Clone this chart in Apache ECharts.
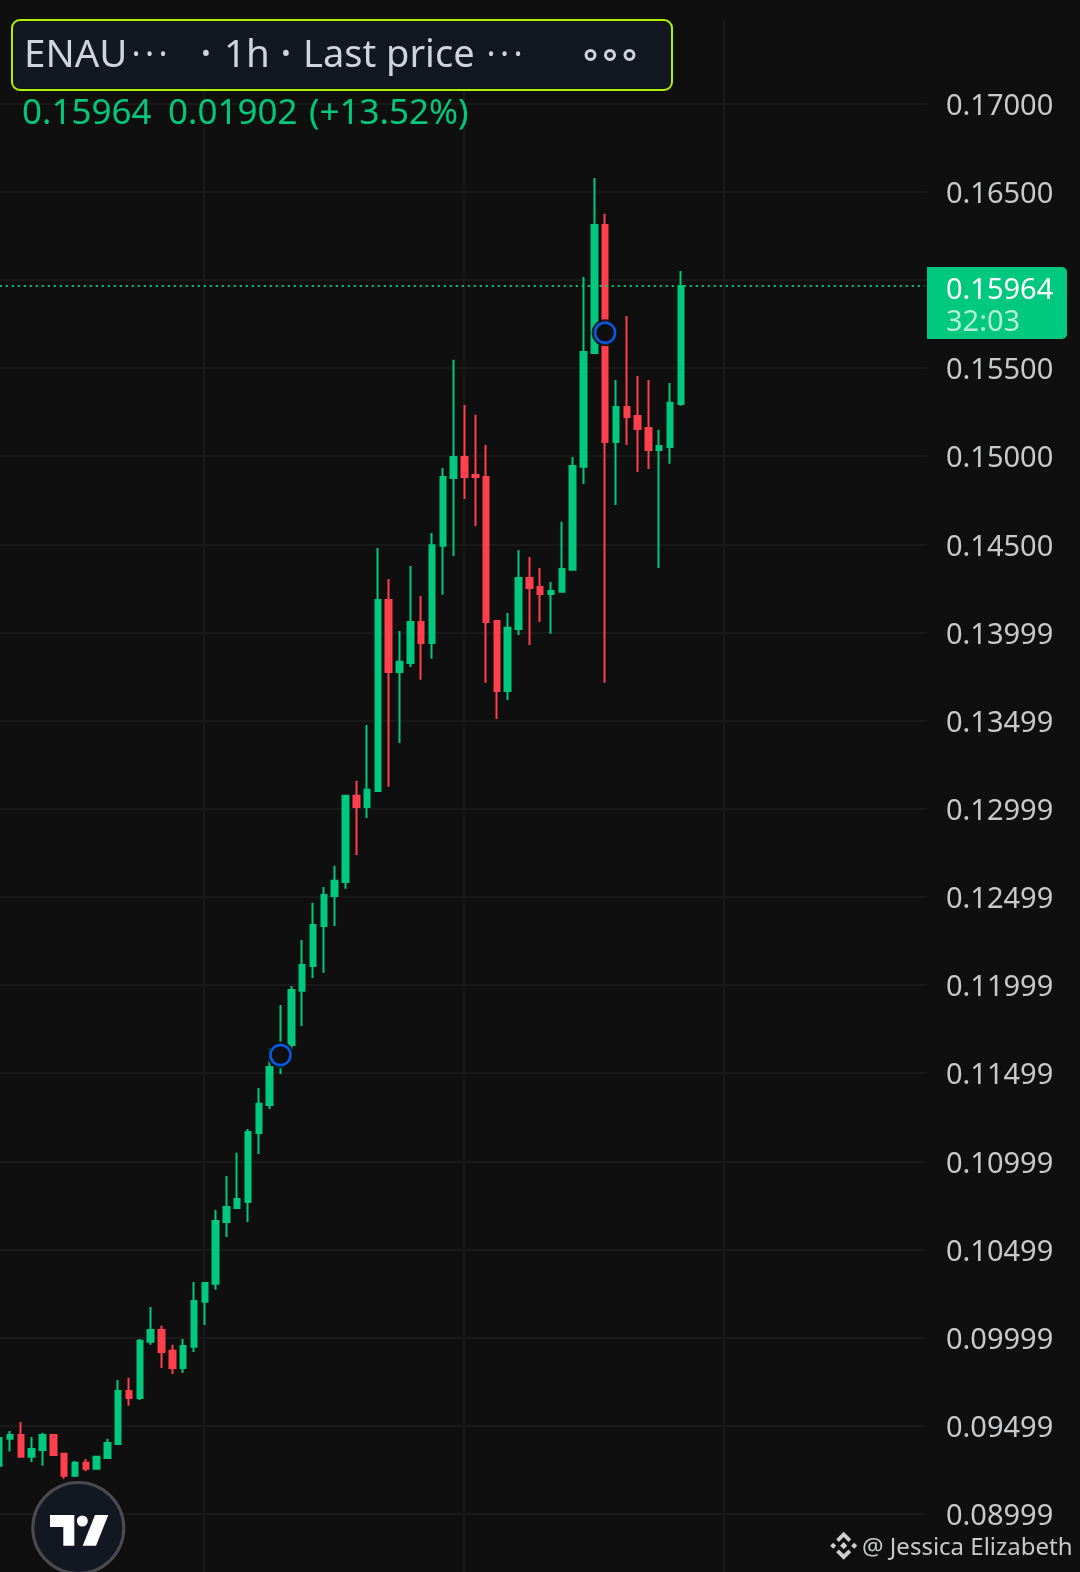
<!DOCTYPE html>
<html><head><meta charset="utf-8">
<style>html,body{margin:0;padding:0;background:#0f0f0f}#c{width:1080px;height:1572px}</style>
<script src="https://cdn.jsdelivr.net/npm/echarts@6/dist/echarts.min.js"></script>
</head><body><div id="c"></div>
<script>
const opens=[.09273,.09426,.09448,.09324,.09363,.09448,.09341,.09216,.09290,.09256,.09318,.09397,.09698,.09658,.09976,.10044,.09925,.09828,.09948,.10203,.10305,.10656,.10736,.10770,.11161,.11320,.11535,.11660,.11967,.12108,.12335,.12505,.12585,.13073,.13010,.13101,.14184,.13776,.13827,.14059,.13940,.14491,.14876,.14995,.14893,.14882,.14065,.13668,.14020,.14309,.14258,.14218,.14230,.14355,.14939,.15585,.16311,.15080,.15279,.15228,.15160,.15035,.15052,.15296];
const closes=[.09431,.09448,.09324,.09369,.09448,.09335,.09216,.09290,.09256,.09324,.09403,.09698,.09658,.09982,.10044,.09919,.09828,.09953,.10208,.10310,.10662,.10741,.10787,.11167,.11326,.11535,.11660,.11972,.12114,.12341,.12511,.12591,.13073,.13010,.13107,.14184,.13776,.13833,.14059,.13940,.14495,.14882,.14995,.14882,.14882,.14059,.13668,.14026,.14309,.14252,.14218,.14235,.14360,.14944,.15591,.16311,.15080,.15279,.15222,.15154,.15035,.15058,.15302,.15964];
const lows=[.09273,.09354,.09324,.09295,.09273,.09335,.09199,.09210,.09244,.09250,.09312,.09392,.09613,.09647,.09959,.09828,.09794,.09800,.09919,.10072,.10271,.10571,.10736,.10656,.11042,.11297,.11496,.11632,.11768,.12040,.12069,.12335,.12546,.12738,.12948,.13101,.13124,.13373,.13804,.13731,.13850,.14213,.14434,.14757,.14604,.13714,.13509,.13617,.13986,.13929,.14059,.13992,.14230,.14355,.14842,.15585,.13714,.14723,.15063,.14910,.14927,.14366,.14956,.15285];
const highs=[.09448,.09471,.09522,.09437,.09460,.09454,.09341,.09301,.09312,.09329,.09426,.09760,.09772,.09993,.10174,.10067,.09959,.09993,.10316,.10310,.10724,.10917,.11048,.11184,.11416,.11643,.11887,.11995,.12256,.12466,.12556,.12676,.13078,.13158,.13475,.14479,.14303,.14008,.14377,.14207,.14564,.14933,.15546,.15290,.15234,.15063,.14065,.14110,.14468,.14428,.14366,.14286,.14627,.14995,.16016,.16578,.16374,.15432,.15795,.15455,.15432,.15149,.15415,.16050];
const tickLabels=['','0.08999','0.09499','0.09999','0.10499','0.10999','0.11499','0.11999','0.12499','0.12999','0.13499','0.13999','0.14500','0.15000','0.15500','','0.16500','0.17000'];
const lastPrice=0.15964;
const markerIndex=[26,56];
const markerPrice=[0.11603,0.15700];
const categories=[];for(let i=0;i<86;i++)categories.push(String(i));

const UP='#00c97f',DOWN='#ff404d',GRID='#191919',BG='#0f0f0f',HEAD='#d1d4dc';
const ohlc=opens.map((o,i)=>[o,closes[i],lows[i],highs[i]]);
const markers=markerIndex.map((x,i)=>[x,markerPrice[i]]);
const F='"Noto Sans"';
const txt=(x,y,t,font,fill)=>({type:'text',z:100,x,y,style:{text:t,font,fill,verticalAlign:'middle',align:'left'}});
const dot=(cx,size)=>({type:'text',z:100,x:cx,y:56,style:{text:'·',font:size+'px '+F,fill:HEAD,verticalAlign:'middle',align:'center'}});
const poly=(pts,fill)=>({type:'polygon',z:101,shape:{points:pts},style:{fill}});
const dia=(cx,cy,r,fill)=>poly([[cx,cy-r],[cx+r,cy],[cx,cy+r],[cx-r,cy]],fill);
const ICON='#cfcfcf';const ix=843.7,iy=1545.7;
const hiddenX=i=>({type:'category',gridIndex:i,data:categories,show:false});
const priceAxis={type:'value',position:'right',min:0.085,max:0.17,interval:0.005,axisLine:{show:false},axisTick:{show:false}};
const option={
 backgroundColor:BG,animation:false,
 grid:[
  {left:-6.2,top:103.5,width:930.5,height:1498.6,outerBoundsMode:'none'},
  {left:204,top:19,width:520,height:1553,outerBoundsMode:'none'},
  {left:-6.2,top:103.5,width:933.2,height:1498.6,outerBoundsMode:'none'},
  {left:-6.2,top:106.5,width:933.2,height:1498.6,outerBoundsMode:'none'}
 ],
 xAxis:[
  {type:'category',gridIndex:0,data:categories,boundaryGap:true,axisLine:{show:false},axisTick:{show:false},axisLabel:{show:false},splitLine:{show:false}},
  {type:'value',gridIndex:1,min:0,max:48,interval:24,axisLine:{show:false},axisTick:{show:false},axisLabel:{show:false},splitLine:{show:true,lineStyle:{color:GRID,width:2}}},
  hiddenX(2),hiddenX(3)
 ],
 yAxis:[
  {...priceAxis,gridIndex:0,axisLabel:{show:false},splitLine:{show:false}},
  {type:'value',gridIndex:1,min:0,max:1,show:false},
  {...priceAxis,gridIndex:2,axisLabel:{show:false},splitLine:{show:true,lineStyle:{color:GRID,width:2}}},
  {...priceAxis,gridIndex:3,splitLine:{show:false},
   axisLabel:{margin:19,color:'#c8c9cb',fontSize:29,fontFamily:F,formatter:(v,i)=>tickLabels[i]||''}}
 ],
 series:[
  {type:'candlestick',xAxisIndex:0,yAxisIndex:0,data:ohlc,barWidth:6,z:3,
   itemStyle:{color:UP,color0:DOWN,borderColor:UP,borderColor0:DOWN,borderWidth:2},
   markLine:{silent:true,precision:5,symbol:'none',label:{show:false},animation:false,
    lineStyle:{color:UP,type:[2,4],width:2,opacity:1},data:[{yAxis:lastPrice}]}},
  {type:'scatter',xAxisIndex:0,yAxisIndex:0,data:markers,symbol:'circle',symbolSize:27,z:4,silent:true,
   itemStyle:{color:'#0c0f14',opacity:0.85}},
  {type:'scatter',xAxisIndex:0,yAxisIndex:0,data:markers,symbol:'circle',symbolSize:20,z:5,silent:true,
   itemStyle:{color:BG,borderColor:'#0b57e6',borderWidth:2.5,opacity:1}}
 ],
 graphic:{elements:[
  {type:'rect',z:99,shape:{x:12,y:20,width:660,height:70,r:8},style:{fill:'#131722',stroke:'#b2f000',lineWidth:2}},
  txt(24,56,'ENAU','38.5px '+F,HEAD),
  dot(136,34),dot(149.5,34),dot(163,34),
  dot(206,46),
  txt(224,56,'1h','38.5px '+F,HEAD),
  dot(286,46),
  txt(303,56,'Last price','38px '+F,HEAD),
  dot(491,34),dot(504.5,34),dot(518,34),
  {type:'circle',z:100,shape:{cx:590.5,cy:55,r:4.5},style:{fill:'none',stroke:HEAD,lineWidth:3}},
  {type:'circle',z:100,shape:{cx:610,cy:55,r:4.5},style:{fill:'none',stroke:HEAD,lineWidth:3}},
  {type:'circle',z:100,shape:{cx:629.5,cy:55,r:4.5},style:{fill:'none',stroke:HEAD,lineWidth:3}},
  txt(22,114,'0.15964','35px '+F,UP),
  txt(168,114,'0.01902','35px '+F,UP),
  txt(309,114,'(+13.52%)','35px '+F,UP),
  {type:'rect',z:99,shape:{x:927,y:267,width:140,height:72,r:[0,5,5,0]},style:{fill:UP}},
  txt(946,291,'0.15964','29px '+F,'#ffffff'),
  txt(946,323,'32:03','29px '+F,'rgba(255,255,255,0.7)'),
  {type:'circle',z:99,shape:{cx:78.3,cy:1528,r:45.5},style:{fill:'#131722',stroke:'#4a4b50',lineWidth:3}},
  poly([[50,1515],[74.3,1515],[74.3,1545.7],[63.3,1545.7],[63.3,1527],[50,1527]],'#ffffff'),
  {type:'circle',z:101,shape:{cx:82.3,cy:1521,r:5.5},style:{fill:'#ffffff'}},
  poly([[95,1515],[108.3,1515],[96,1545.7],[82.7,1545.7]],'#ffffff'),
  txt(862,1548,'@ Jessica Elizabeth','24px '+F,'#c8c9cb'),
  dia(ix,iy,3.6,ICON),dia(ix-10.5,iy,3,ICON),dia(ix+10.5,iy,3,ICON),
  poly([[ix,iy-14],[ix+7.5,iy-6.5],[ix+4.8,iy-3.8],[ix,iy-8.6],[ix-4.8,iy-3.8],[ix-7.5,iy-6.5]],ICON),
  poly([[ix,iy+14],[ix+7.5,iy+6.5],[ix+4.8,iy+3.8],[ix,iy+8.6],[ix-4.8,iy+3.8],[ix-7.5,iy+6.5]],ICON)
 ]}
};
echarts.init(document.getElementById('c'),null,{renderer:'canvas'}).setOption(option);
</script></body></html>
